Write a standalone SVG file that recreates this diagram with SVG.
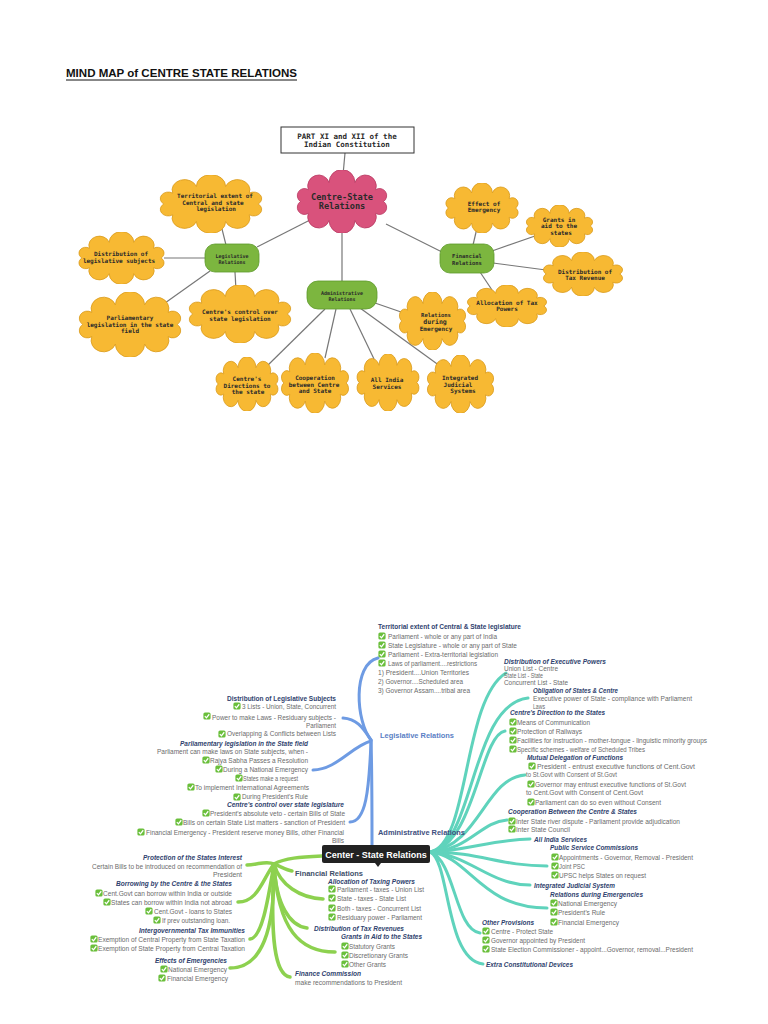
<svg xmlns="http://www.w3.org/2000/svg" width="768" height="1024" viewBox="0 0 768 1024">
<style>
.t{font-family:"Liberation Sans",Arial,sans-serif;}
.m{font-family:"DejaVu Sans Mono","Liberation Mono",monospace;font-weight:bold;fill:#2a2a2a;text-anchor:middle;}
.cl{fill:#f7b933;stroke:#d99a1c;stroke-width:0.8;}
.gn{fill:#7cb63f;stroke:#5e9a2c;stroke-width:0.8;}
.ln{stroke:#777;stroke-width:1.2;fill:none;}
.h{font-family:"Liberation Sans",Arial,sans-serif;font-size:6.5px;font-weight:bold;font-style:italic;fill:#2f3f6e;}
.i{font-family:"Liberation Sans",Arial,sans-serif;font-size:6.5px;fill:#6b6b6b;}
.bl{stroke:#6e9be3;stroke-width:3;fill:none;stroke-linecap:round;}
.tl{stroke:#5fd3bc;stroke-width:3;fill:none;stroke-linecap:round;}
.gr{stroke:#8dd14f;stroke-width:3.5;fill:none;stroke-linecap:round;}
</style>
<defs>
<symbol id="cloud" viewBox="0 0 100 60" preserveAspectRatio="none"><path vector-effect="non-scaling-stroke" d="M90,30 A1,1 0 0 1 82.4,41.2 A1,1 0 0 1 62.4,48.1 A1,1 0 0 1 37.6,48.1 A1,1 0 0 1 17.6,41.2 A1,1 0 0 1 10,30 A1,1 0 0 1 17.6,18.8 A1,1 0 0 1 37.6,11.9 A1,1 0 0 1 62.4,11.9 A1,1 0 0 1 82.4,18.8 A1,1 0 0 1 90,30 Z"/></symbol>
<symbol id="ck" viewBox="0 0 10 10"><rect x="0.5" y="0.5" width="9" height="9" rx="2" fill="#6abf3b"/><path d="M2.3,5.2 L4.3,7.3 L7.8,2.8" fill="none" stroke="#fff" stroke-width="1.6"/></symbol>
</defs>
<rect width="768" height="1024" fill="#fff"/>

<g id="title">
<text class="t" x="66" y="77" font-size="11.5" font-weight="bold" fill="#111" textLength="231" lengthAdjust="spacingAndGlyphs">MIND MAP of CENTRE STATE RELATIONS</text>
<line x1="66" y1="80" x2="297" y2="80" stroke="#111" stroke-width="1"/>
</g>

<g id="top-connectors">
<line class="ln" x1="345" y1="153" x2="343" y2="175"/>
<line class="ln" x1="342" y1="228" x2="342" y2="281"/>
<line class="ln" x1="310" y1="220" x2="257" y2="247"/>
<line class="ln" x1="386" y1="224" x2="444" y2="253"/>
<line class="ln" x1="226" y1="245" x2="222" y2="229"/>
<line class="ln" x1="206" y1="258" x2="164" y2="258"/>
<line class="ln" x1="210" y1="271" x2="165" y2="303"/>
<line class="ln" x1="235" y1="272" x2="236" y2="290"/>
<line class="ln" x1="473" y1="245" x2="477" y2="228"/>
<line class="ln" x1="492" y1="251" x2="535" y2="236"/>
<line class="ln" x1="493" y1="263" x2="546" y2="270"/>
<line class="ln" x1="480" y1="272" x2="492" y2="290"/>
<line class="ln" x1="325" y1="309" x2="266" y2="367"/>
<line class="ln" x1="336" y1="309" x2="325" y2="358"/>
<line class="ln" x1="350" y1="309" x2="374" y2="359"/>
<line class="ln" x1="360" y1="308" x2="440" y2="366"/>
<line class="ln" x1="375" y1="303" x2="404" y2="313"/>
</g>

<g id="part-box">
<rect x="281" y="127" width="133" height="26" fill="#fff" stroke="#333" stroke-width="1"/>
<text class="m" x="347" y="139" font-size="7.5">PART XI and XII of the</text>
<text class="m" x="347" y="146.5" font-size="7.5">Indian Constitution</text>
</g>
<g id="centre-state">
<use href="#cloud" x="290" y="170" width="104" height="63" fill="#d9527c" stroke="#b83a62" stroke-width="0.8"/>
<text class="m" x="342" y="200" font-size="8.6">Centre-State</text>
<text class="m" x="342" y="209" font-size="8.6">Relations</text>
</g>
<g id="legislative">
<rect class="gn" x="205" y="244" width="54" height="28" rx="10"/>
<text class="m" x="232" y="258" font-size="5">Legislative</text>
<text class="m" x="232" y="264" font-size="5">Relations</text>
</g>
<g id="financial">
<rect class="gn" x="440" y="244" width="54" height="29" rx="10"/>
<text class="m" x="467" y="258" font-size="5.5">Financial</text>
<text class="m" x="467" y="264.5" font-size="5.5">Relations</text>
</g>
<g id="administrative">
<rect class="gn" x="307" y="281" width="70" height="28" rx="11"/>
<text class="m" x="342" y="294.5" font-size="5">Administrative</text>
<text class="m" x="342" y="300.5" font-size="5">Relations</text>
</g>
<g id="territorial">
<use href="#cloud" class="cl" x="152" y="175" width="118" height="58"/>
<text class="m" x="215" y="198" font-size="6">Territorial extent of</text>
<text class="m" x="213" y="204.5" font-size="6">Central and state</text>
<text class="m" x="216" y="211" font-size="6">legislation</text>
</g>
<g id="dist-leg">
<use href="#cloud" class="cl" x="72" y="232" width="99" height="52"/>
<text class="m" x="121" y="256" font-size="6">Distribution of</text>
<text class="m" x="119" y="263" font-size="6">legislative subjects</text>
</g>
<g id="parl-leg">
<use href="#cloud" class="cl" x="71" y="292" width="118" height="65"/>
<text class="m" x="130" y="320" font-size="6">Parliamentary</text>
<text class="m" x="130" y="326.5" font-size="6">legislation in the state</text>
<text class="m" x="130" y="333" font-size="6">field</text>
</g>
<g id="centre-control">
<use href="#cloud" class="cl" x="181" y="285" width="118" height="58"/>
<text class="m" x="240" y="314" font-size="6">Centre's control over</text>
<text class="m" x="240" y="320.5" font-size="6">state legislation</text>
</g>
<g id="centre-directions">
<use href="#cloud" class="cl" x="211" y="357" width="72" height="54"/>
<text class="m" x="247" y="381" font-size="6">Centre's</text>
<text class="m" x="247" y="387.5" font-size="6">Directions to</text>
<text class="m" x="248" y="394" font-size="6">the state</text>
</g>
<g id="cooperation">
<use href="#cloud" class="cl" x="276" y="353" width="78" height="60"/>
<text class="m" x="315" y="380" font-size="6">Cooperation</text>
<text class="m" x="314" y="386.5" font-size="6">between Centre</text>
<text class="m" x="315" y="393" font-size="6">and State</text>
</g>
<g id="all-india">
<use href="#cloud" class="cl" x="352" y="354" width="72" height="57"/>
<text class="m" x="387" y="382" font-size="6">All India</text>
<text class="m" x="387" y="388.5" font-size="6">Services</text>
</g>
<g id="integrated">
<use href="#cloud" class="cl" x="422" y="355" width="77" height="58"/>
<text class="m" x="460" y="380" font-size="6">Integrated</text>
<text class="m" x="458" y="386.5" font-size="6">Judicial</text>
<text class="m" x="463" y="393" font-size="6">Systems</text>
</g>
<g id="rel-emergency">
<use href="#cloud" class="cl" x="394" y="292" width="77" height="58"/>
<text class="m" x="436" y="317" font-size="5.5">Relations</text>
<text class="m" x="435" y="324" font-size="6.5">during</text>
<text class="m" x="436" y="330.5" font-size="6">Emergency</text>
</g>
<g id="allocation">
<use href="#cloud" class="cl" x="461" y="285" width="92" height="42"/>
<text class="m" x="507" y="304.5" font-size="6">Allocation of Tax</text>
<text class="m" x="507" y="311" font-size="6">Powers</text>
</g>
<g id="dist-tax">
<use href="#cloud" class="cl" x="537" y="252" width="92" height="44"/>
<text class="m" x="585" y="273.5" font-size="6">Distribution of</text>
<text class="m" x="585" y="280" font-size="6">Tax Revenue</text>
</g>
<g id="grants">
<use href="#cloud" class="cl" x="521" y="205" width="77" height="42"/>
<text class="m" x="559" y="221.5" font-size="6">Grants in</text>
<text class="m" x="559" y="228" font-size="6">aid to the</text>
<text class="m" x="561" y="234.5" font-size="6">states</text>
</g>
<g id="effect-emergency">
<use href="#cloud" class="cl" x="440" y="183" width="84" height="50"/>
<text class="m" x="484" y="205.5" font-size="6">Effect of</text>
<text class="m" x="484" y="212" font-size="6">Emergency</text>
</g>

<g id="bottom-connectors">
<path class="bl" d="M372,845 C372,800 372,770 371,740"/>
<path class="bl" d="M371,740 C356,722 352,664 378,658"/>
<path class="bl" d="M371,740 C362,726 356,719 343,718"/>
<path class="bl" d="M371,741 C352,746 336,770 313,770"/>
<path class="bl" d="M371,742 C369,790 366,822 350,822"/>
<path class="tl" d="M430,852 C470,845 462,700 506,673"/>
<path class="tl" d="M430,852 C475,845 470,705 528,698"/>
<path class="tl" d="M430,852 C475,845 480,735 505,731"/>
<path class="tl" d="M430,852 C480,845 485,778 525,775"/>
<path class="tl" d="M430,852 C470,850 480,822 507,820"/>
<path class="tl" d="M430,852 C470,850 490,840 530,839"/>
<path class="tl" d="M430,852 C480,852 500,866 547,866"/>
<path class="tl" d="M430,852 C470,855 490,885 530,885"/>
<path class="tl" d="M430,852 C470,856 480,908 547,908"/>
<path class="tl" d="M430,852 C455,860 455,930 480,933"/>
<path class="tl" d="M430,852 C450,860 445,960 483,964"/>
<path class="gr" d="M322,856 C300,857 285,858 274,864"/>
<path class="gr" d="M274,864 C266,860 258,865 247,865"/>
<path class="gr" d="M274,864 C262,880 258,902 238,902"/>
<path class="gr" d="M274,864 C268,900 262,938 250,939"/>
<path class="gr" d="M274,864 C275,930 262,968 230,968"/>
<path class="gr" d="M274,864 C280,866 286,870 292,871"/>
<path class="gr" d="M274,864 C280,885 300,898 323,899"/>
<path class="gr" d="M274,864 C276,905 290,926 307,928"/>
<path class="gr" d="M274,864 C278,930 300,952 335,952"/>
<path class="gr" d="M274,864 C270,940 275,975 290,977"/>
</g>

<g id="center-node">
<rect x="322" y="845" width="108" height="18" rx="2" fill="#222"/>
<path d="M375,863 L378,867 L381,863 Z" fill="#222"/>
<text class="t" x="376" y="857.5" font-size="9" font-weight="bold" fill="#fff" text-anchor="middle">Center - State Relations</text>
</g>

<g id="legislative-relations">
<text class="t" x="380" y="737.5" font-size="7" font-weight="bold" fill="#5a80c5" textLength="74" lengthAdjust="spacingAndGlyphs">Legislative Relations</text>
<text class="t" x="378" y="629" font-size="6.5" font-weight="bold" fill="#2f3f6e" textLength="143" lengthAdjust="spacingAndGlyphs">Territorial extent of Central &amp; State legislature</text>
<use href="#ck" x="378" y="632" width="8" height="8"/><text class="i" x="388" y="638.5" textLength="109" lengthAdjust="spacingAndGlyphs">Parliament - whole or any part of India</text>
<use href="#ck" x="378" y="641" width="8" height="8"/><text class="i" x="388" y="647.5" textLength="129" lengthAdjust="spacingAndGlyphs">State Legislature - whole or any part of State</text>
<use href="#ck" x="378" y="650" width="8" height="8"/><text class="i" x="388" y="656.5" textLength="110" lengthAdjust="spacingAndGlyphs">Parliament - Extra-territorial legislation</text>
<use href="#ck" x="378" y="659" width="8" height="8"/><text class="i" x="388" y="665.5" textLength="89" lengthAdjust="spacingAndGlyphs">Laws of parliament....restrictions</text>
<text class="i" x="378" y="674.5" textLength="91" lengthAdjust="spacingAndGlyphs">1) President....Union Territories</text>
<text class="i" x="378" y="683.5" textLength="85" lengthAdjust="spacingAndGlyphs">2) Governor....Scheduled area</text>
<text class="i" x="378" y="692.5" textLength="92" lengthAdjust="spacingAndGlyphs">3) Governor Assam....tribal area</text>

<text class="t" x="227" y="700.5" font-size="6.5" font-weight="bold" fill="#2f3f6e" textLength="109" lengthAdjust="spacingAndGlyphs">Distribution of Legislative Subjects</text>
<use href="#ck" x="233" y="702" width="8" height="8"/><text class="i" x="242" y="709" textLength="94" lengthAdjust="spacingAndGlyphs">3 Lists - Union, State, Concurrent</text>
<use href="#ck" x="203" y="712" width="8" height="8"/><text class="i" x="212" y="719.5" textLength="124" lengthAdjust="spacingAndGlyphs">Power to make Laws - Residuary subjects -</text>
<text class="i" x="306" y="727.5" textLength="30" lengthAdjust="spacingAndGlyphs">Parliament</text>
<use href="#ck" x="218" y="730" width="8" height="8"/><text class="i" x="227" y="736" textLength="109" lengthAdjust="spacingAndGlyphs">Overlapping &amp; Conflicts between Lists</text>
<text class="h" x="180" y="745.5" textLength="128" lengthAdjust="spacingAndGlyphs">Parliamentary legislation in the State field</text>
<text class="i" x="157" y="753.5" textLength="151" lengthAdjust="spacingAndGlyphs">Parliament can make laws on State subjects, when -</text>
<use href="#ck" x="202" y="756" width="8" height="8"/><text class="i" x="210" y="762.5" textLength="98" lengthAdjust="spacingAndGlyphs">Rajya Sabha Passes a Resolution</text>
<use href="#ck" x="215" y="765" width="8" height="8"/><text class="i" x="223" y="771.5" textLength="85" lengthAdjust="spacingAndGlyphs">During a National Emergency</text>
<use href="#ck" x="235" y="774" width="8" height="8"/><text class="i" x="243" y="780.5" textLength="55" lengthAdjust="spacingAndGlyphs">States make a request</text>
<use href="#ck" x="187" y="783" width="8" height="8"/><text class="i" x="195" y="789.5" textLength="114" lengthAdjust="spacingAndGlyphs">To implement International Agreements</text>
<use href="#ck" x="233" y="793" width="8" height="8"/><text class="i" x="242" y="799" textLength="66" lengthAdjust="spacingAndGlyphs">During President's Rule</text>
<text class="h" x="227" y="806.5" textLength="117" lengthAdjust="spacingAndGlyphs">Centre's control over state legislature</text>
<use href="#ck" x="202" y="809" width="8" height="8"/><text class="i" x="210" y="815.5" textLength="135" lengthAdjust="spacingAndGlyphs">President's absolute veto - certain Bills of State</text>
<use href="#ck" x="175" y="818" width="8" height="8"/><text class="i" x="183" y="824.5" textLength="162" lengthAdjust="spacingAndGlyphs">Bills on certain State List matters - sanction of President</text>
<use href="#ck" x="137" y="828" width="8" height="8"/><text class="i" x="146" y="834.5" textLength="198" lengthAdjust="spacingAndGlyphs">Financial Emergency - President reserve money Bills, other Financial</text>
<text class="i" x="332" y="842.5" textLength="12" lengthAdjust="spacingAndGlyphs">Bills</text>
</g>

<g id="administrative-relations">
<text class="t" x="378" y="834.5" font-size="7" font-weight="bold" fill="#3e4f80" textLength="87" lengthAdjust="spacingAndGlyphs">Administrative Relations</text>
<text class="h" x="504" y="663.5" textLength="102" lengthAdjust="spacingAndGlyphs">Distribution of Executive Powers</text>
<text class="i" x="504" y="670.5" fill="#999" textLength="54" lengthAdjust="spacingAndGlyphs">Union List - Centre</text>
<text class="i" x="504" y="677.5" textLength="39" lengthAdjust="spacingAndGlyphs">State List - State</text>
<text class="i" x="504" y="684.5" textLength="64" lengthAdjust="spacingAndGlyphs">Concurrent List - State</text>
<text class="h" x="533" y="693" textLength="85" lengthAdjust="spacingAndGlyphs">Obligation of States &amp; Centre</text>
<text class="i" x="533" y="701" textLength="159" lengthAdjust="spacingAndGlyphs">Executive power of State - compliance with Parliament</text>
<text class="i" x="533" y="708.5" textLength="12" lengthAdjust="spacingAndGlyphs">Laws</text>
<text class="h" x="510" y="715" textLength="95" lengthAdjust="spacingAndGlyphs">Centre's Direction to the States</text>
<use href="#ck" x="509" y="718" width="8" height="8"/><text class="i" x="517" y="724.5" textLength="73" lengthAdjust="spacingAndGlyphs">Means of Communication</text>
<use href="#ck" x="509" y="727" width="8" height="8"/><text class="i" x="517" y="733.5" textLength="65" lengthAdjust="spacingAndGlyphs">Protection of Railways</text>
<use href="#ck" x="509" y="736" width="8" height="8"/><text class="i" x="517" y="742.5" textLength="190" lengthAdjust="spacingAndGlyphs">Facilities for instruction - mother-tongue - linguistic minority groups</text>
<use href="#ck" x="509" y="745" width="8" height="8"/><text class="i" x="517" y="751.5" textLength="128" lengthAdjust="spacingAndGlyphs">Specific schemes - welfare of Scheduled Tribes</text>
<text class="h" x="527" y="759.5" textLength="96" lengthAdjust="spacingAndGlyphs">Mutual Delegation of Functions</text>
<use href="#ck" x="528" y="762" width="8" height="8"/><text class="i" x="537" y="768.5" textLength="158" lengthAdjust="spacingAndGlyphs">President - entrust executive functions of Cent.Govt</text>
<text class="i" x="526" y="777" textLength="91" lengthAdjust="spacingAndGlyphs">to St.Govt with Consent of St.Govt</text>
<use href="#ck" x="527" y="780" width="8" height="8"/><text class="i" x="535" y="786.5" textLength="151" lengthAdjust="spacingAndGlyphs">Governor may entrust executive functions of St.Govt</text>
<text class="i" x="526" y="794.5" textLength="117" lengthAdjust="spacingAndGlyphs">to Cent.Govt with Consent of Cent.Govt</text>
<use href="#ck" x="527" y="798" width="8" height="8"/><text class="i" x="535" y="804.5" textLength="126" lengthAdjust="spacingAndGlyphs">Parliament can do so even without Consent</text>
<text class="h" x="508" y="813.5" textLength="129" lengthAdjust="spacingAndGlyphs">Cooperation Between the Centre &amp; States</text>
<use href="#ck" x="508" y="817" width="8" height="8"/><text class="i" x="516" y="823.5" textLength="164" lengthAdjust="spacingAndGlyphs">Inter State river dispute - Parliament provide adjudication</text>
<use href="#ck" x="508" y="825" width="8" height="8"/><text class="i" x="516" y="831.5" textLength="54" lengthAdjust="spacingAndGlyphs">Inter State Council</text>
<text class="h" x="534" y="841.5" textLength="53" lengthAdjust="spacingAndGlyphs">All India Services</text>
<text class="h" x="550" y="849.5" textLength="88" lengthAdjust="spacingAndGlyphs">Public Service Commissions</text>
<use href="#ck" x="551" y="853" width="8" height="8"/><text class="i" x="559" y="859.5" textLength="134" lengthAdjust="spacingAndGlyphs">Appointments - Governor, Removal - President</text>
<use href="#ck" x="551" y="862" width="8" height="8"/><text class="i" x="559" y="868.5" textLength="26" lengthAdjust="spacingAndGlyphs">Joint PSC</text>
<use href="#ck" x="551" y="871" width="8" height="8"/><text class="i" x="559" y="877.5" textLength="87" lengthAdjust="spacingAndGlyphs">UPSC helps States on request</text>
<text class="h" x="534" y="887.5" textLength="81" lengthAdjust="spacingAndGlyphs">Integrated Judicial System</text>
<text class="h" x="550" y="896.5" textLength="93" lengthAdjust="spacingAndGlyphs">Relations during Emergencies</text>
<use href="#ck" x="550" y="899" width="8" height="8"/><text class="i" x="558" y="905.5" textLength="59" lengthAdjust="spacingAndGlyphs">National Emergency</text>
<use href="#ck" x="550" y="908" width="8" height="8"/><text class="i" x="558" y="914.5" textLength="47" lengthAdjust="spacingAndGlyphs">President's Rule</text>
<use href="#ck" x="550" y="918" width="8" height="8"/><text class="i" x="558" y="924.5" textLength="61" lengthAdjust="spacingAndGlyphs">Financial Emergency</text>
<text class="h" x="482" y="924.5" textLength="52" lengthAdjust="spacingAndGlyphs">Other Provisions</text>
<use href="#ck" x="482" y="927" width="8" height="8"/><text class="i" x="491" y="933.5" textLength="62" lengthAdjust="spacingAndGlyphs">Centre - Protect State</text>
<use href="#ck" x="482" y="936" width="8" height="8"/><text class="i" x="491" y="942.5" textLength="94" lengthAdjust="spacingAndGlyphs">Governor appointed by President</text>
<use href="#ck" x="482" y="945" width="8" height="8"/><text class="i" x="491" y="951.5" textLength="202" lengthAdjust="spacingAndGlyphs">State Election Commissioner - appoint...Governor, removal...President</text>
<text class="h" x="486" y="966.5" textLength="87" lengthAdjust="spacingAndGlyphs">Extra Constitutional Devices</text>
</g>

<g id="financial-relations">
<text class="t" x="295" y="875.5" font-size="7" font-weight="bold" fill="#3e4f6a" textLength="68" lengthAdjust="spacingAndGlyphs">Financial Relations</text>
<text class="h" x="328" y="883.5" textLength="87" lengthAdjust="spacingAndGlyphs">Allocation of Taxing Powers</text>
<use href="#ck" x="328" y="885" width="8" height="8"/><text class="i" x="337" y="891.5" textLength="87" lengthAdjust="spacingAndGlyphs">Parliament - taxes - Union List</text>
<use href="#ck" x="328" y="894" width="8" height="8"/><text class="i" x="337" y="900.5" textLength="69" lengthAdjust="spacingAndGlyphs">State - taxes - State List</text>
<use href="#ck" x="328" y="904" width="8" height="8"/><text class="i" x="337" y="910.5" textLength="84" lengthAdjust="spacingAndGlyphs">Both - taxes - Concurrent List</text>
<use href="#ck" x="328" y="913" width="8" height="8"/><text class="i" x="337" y="919.5" textLength="85" lengthAdjust="spacingAndGlyphs">Residuary power - Parliament</text>
<text class="h" x="314" y="930.5" textLength="90" lengthAdjust="spacingAndGlyphs">Distribution of Tax Revenues</text>
<text class="h" x="341" y="939" textLength="81" lengthAdjust="spacingAndGlyphs">Grants in Aid to the States</text>
<use href="#ck" x="341" y="942" width="8" height="8"/><text class="i" x="349" y="948.5" textLength="46" lengthAdjust="spacingAndGlyphs">Statutory Grants</text>
<use href="#ck" x="341" y="951" width="8" height="8"/><text class="i" x="349" y="957.5" textLength="59" lengthAdjust="spacingAndGlyphs">Discretionary Grants</text>
<use href="#ck" x="341" y="960" width="8" height="8"/><text class="i" x="349" y="966.5" textLength="37" lengthAdjust="spacingAndGlyphs">Other Grants</text>
<text class="h" x="295" y="975.5" textLength="66" lengthAdjust="spacingAndGlyphs">Finance Commission</text>
<text class="i" x="295" y="984.5" textLength="107" lengthAdjust="spacingAndGlyphs">make recommendations to President</text>

<text class="h" x="143" y="859.5" textLength="99" lengthAdjust="spacingAndGlyphs">Protection of the States Interest</text>
<text class="i" x="92" y="868.5" textLength="150" lengthAdjust="spacingAndGlyphs">Certain Bills to be introduced on recommendation of</text>
<text class="i" x="213" y="876.5" textLength="29" lengthAdjust="spacingAndGlyphs">President</text>
<text class="h" x="116" y="885.5" textLength="116" lengthAdjust="spacingAndGlyphs">Borrowing by the Centre &amp; the States</text>
<use href="#ck" x="95" y="889" width="8" height="8"/><text class="i" x="103" y="895.5" textLength="129" lengthAdjust="spacingAndGlyphs">Cent.Govt can borrow within India or outside</text>
<use href="#ck" x="103" y="898" width="8" height="8"/><text class="i" x="111" y="904.5" textLength="121" lengthAdjust="spacingAndGlyphs">States can borrow within India not abroad</text>
<use href="#ck" x="145" y="907" width="8" height="8"/><text class="i" x="154" y="913.5" textLength="78" lengthAdjust="spacingAndGlyphs">Cent.Govt - loans to States</text>
<use href="#ck" x="153" y="916" width="8" height="8"/><text class="i" x="162" y="922.5" textLength="68" lengthAdjust="spacingAndGlyphs">If prev outstanding loan.</text>
<text class="h" x="139" y="932.5" textLength="106" lengthAdjust="spacingAndGlyphs">Intergovernmental Tax Immunities</text>
<use href="#ck" x="90" y="935" width="8" height="8"/><text class="i" x="98" y="941.5" textLength="147" lengthAdjust="spacingAndGlyphs">Exemption of Central Property from State Taxation</text>
<use href="#ck" x="90" y="944" width="8" height="8"/><text class="i" x="98" y="950.5" textLength="147" lengthAdjust="spacingAndGlyphs">Exemption of State Property from Central Taxation</text>
<text class="h" x="155" y="962.5" textLength="72" lengthAdjust="spacingAndGlyphs">Effects of Emergencies</text>
<use href="#ck" x="160" y="965" width="8" height="8"/><text class="i" x="168" y="971.5" textLength="59" lengthAdjust="spacingAndGlyphs">National Emergency</text>
<use href="#ck" x="158" y="974" width="8" height="8"/><text class="i" x="167" y="980.5" textLength="61" lengthAdjust="spacingAndGlyphs">Financial Emergency</text>
</g>
</svg>
